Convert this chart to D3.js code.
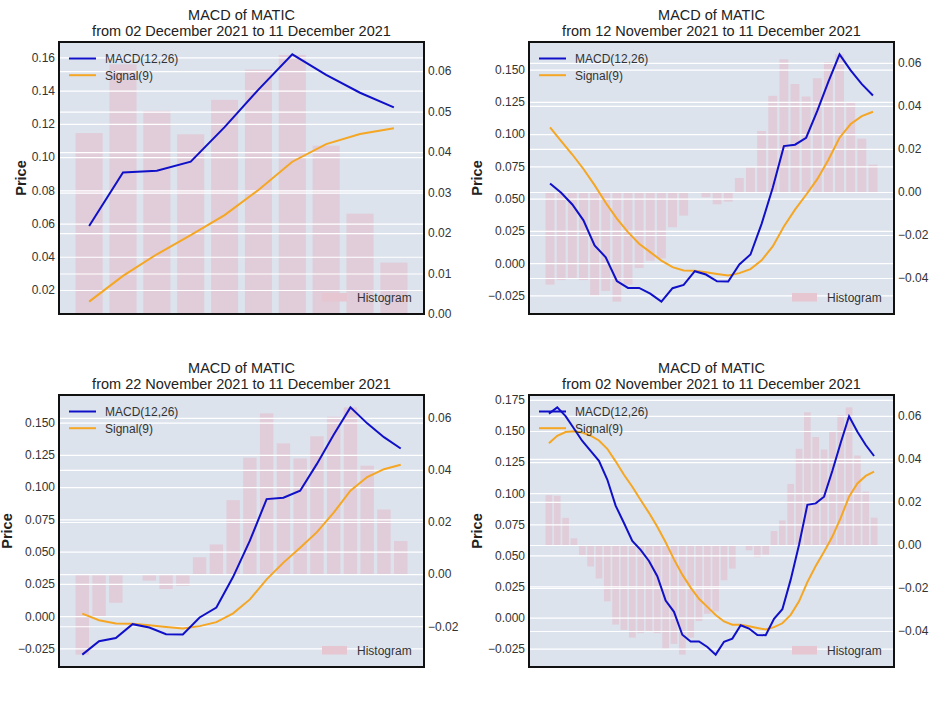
<!DOCTYPE html>
<html lang="en">
<head>
<meta charset="UTF-8">
<title>MACD of MATIC</title>
<script src="https://d3js.org/d3.v7.min.js"></script>
<style>
    body {margin:0; background:#fff;}
    svg text {font-family:"Liberation Sans", Arial, sans-serif;}
</style>
</head>
<body>
<div id="chart"></div>
<script>
// daily MACD values, 02 Nov 2021 .. 11 Dec 2021 (40 days)
var macdValues = [
    0.164, 0.169, 0.162, 0.152, 0.142, 0.134, 0.126, 0.111, 0.090, 0.076,
    0.0617, 0.0545, 0.0455, 0.0332, 0.0137, 0.0046, -0.0138, -0.0192, -0.0192, -0.0236,
    -0.0298, -0.0194, -0.0169, -0.0062, -0.0088, -0.0140, -0.0142, -0.0010, 0.0067, 0.0305,
    0.0585, 0.0907, 0.0918, 0.0972, 0.1180, 0.1406, 0.1618, 0.1494, 0.1387, 0.1299
];
var signalValues = [
    0.1401, 0.1462, 0.1492, 0.1498, 0.1488, 0.1462, 0.1424, 0.1357, 0.1256, 0.1148,
    0.1052, 0.0945, 0.0842, 0.0730, 0.0605, 0.0468, 0.0345, 0.0241, 0.0151, 0.0086,
    0.0020, -0.0031, -0.0057, -0.0058, -0.0070, -0.0083, -0.0096, -0.0077, -0.0046, 0.0022,
    0.0130, 0.0285, 0.0415, 0.0530, 0.0651, 0.0802, 0.0972, 0.1078, 0.1139, 0.1173
];
var histValues = [
    0.0232, 0.0229, 0.0126, 0.0031, -0.0047, -0.0100, -0.0156, -0.0262, -0.0370, -0.0395,
    -0.0431, -0.0410, -0.0403, -0.0410, -0.0482, -0.0460, -0.0510, -0.0431, -0.0354, -0.0320,
    -0.0309, -0.0164, -0.0110, -0.0003, -0.0025, -0.0057, -0.0045, 0.0065, 0.0114, 0.0284,
    0.0447, 0.0617, 0.0502, 0.0444, 0.0529, 0.0604, 0.0640, 0.0416, 0.0248, 0.0127
];

var periodTitles = [
    "from 02 December 2021 to 11 December 2021",
    "from 12 November 2021 to 11 December 2021",
    "from 22 November 2021 to 11 December 2021",
    "from 02 November 2021 to 11 December 2021"
];
var periodDays = [10, 30, 20, 40];
var leftTicks = [
    [0.02, 0.04, 0.06, 0.08, 0.10, 0.12, 0.14, 0.16],
    [-0.025, 0, 0.025, 0.05, 0.075, 0.1, 0.125, 0.15],
    [-0.025, 0, 0.025, 0.05, 0.075, 0.1, 0.125, 0.15],
    [-0.025, 0, 0.025, 0.05, 0.075, 0.1, 0.125, 0.15, 0.175]
];
var leftFormats = [".2f", ".3f", ".3f", ".3f"];
var rightTicks = [
    [0, 0.01, 0.02, 0.03, 0.04, 0.05, 0.06],
    [-0.04, -0.02, 0, 0.02, 0.04, 0.06],
    [-0.02, 0, 0.02, 0.04, 0.06],
    [-0.04, -0.02, 0, 0.02, 0.04, 0.06]
];

var W = 941, H = 706;
var w = 365, h = 272;
var origins = [[59, 42], [529, 42], [59, 395], [529, 395]];
var bgColor = "#dce3ed";
var barColor = "#e0cdd9";
var macdColor = "#1010c8";
var signalColor = "#f5a623";
var textColor = "#333";

var svg = d3.select("#chart").append("svg")
    .attr("width", W)
    .attr("height", H);

function padded(lo, hi, sticky) {
    var r = hi - lo;
    var a = (sticky && lo === 0) ? 0 : lo - 0.05 * r;
    var b = (sticky && hi === 0) ? 0 : hi + 0.05 * r;
    return [a, b];
}

periodDays.forEach(function(n, k) {
    var start = macdValues.length - n;
    var macd = macdValues.slice(start);
    var signal = signalValues.slice(start);
    var hist = histValues.slice(start);
    var idx = d3.range(n);

    var g = svg.append("g")
        .attr("transform", `translate(${origins[k][0]},${origins[k][1]})`);

    var m = 0.05 * (n - 0.2);
    var x = d3.scaleLinear().domain([-0.4 - m, n - 0.6 + m]).range([0, w]);

    var lineExt = d3.extent(macd.concat(signal));
    var yL = d3.scaleLinear().domain(padded(lineExt[0], lineExt[1], false)).range([h, 0]);
    var hLo = Math.min(0, d3.min(hist)), hHi = Math.max(0, d3.max(hist));
    var yR = d3.scaleLinear().domain(padded(hLo, hHi, true)).range([h, 0]);

    g.append("rect")
        .attr("width", w)
        .attr("height", h)
        .attr("fill", bgColor);

    // histogram on the right axis
    g.selectAll(".bar")
        .data(idx)
        .enter()
        .append("rect")
        .attr("class", "bar")
        .attr("x", d => x(d - 0.4))
        .attr("width", x(0.8) - x(0))
        .attr("y", d => yR(Math.max(0, hist[d])))
        .attr("height", d => Math.abs(yR(hist[d]) - yR(0)))
        .attr("fill", barColor);

    // white grid lines for both axes
    var gridL = g.append("g")
        .call(d3.axisLeft(yL).tickValues(leftTicks[k]).tickSize(-w).tickFormat(""));
    var gridR = g.append("g")
        .call(d3.axisLeft(yR).tickValues(rightTicks[k]).tickSize(-w).tickFormat(""));
    [gridL, gridR].forEach(function(gr) {
        gr.select(".domain").remove();
        gr.selectAll("line").attr("stroke", "#fff").attr("stroke-width", 1.2);
    });

    var line = function(vals) {
        return d3.line().x(d => x(d)).y(d => yL(vals[d]))(idx);
    };
    g.append("path")
        .attr("d", line(signal))
        .attr("fill", "none")
        .attr("stroke", signalColor)
        .attr("stroke-width", 2);
    g.append("path")
        .attr("d", line(macd))
        .attr("fill", "none")
        .attr("stroke", macdColor)
        .attr("stroke-width", 2);

    // axes labels
    var axL = g.append("g")
        .call(d3.axisLeft(yL).tickValues(leftTicks[k]).tickSize(0).tickPadding(4)
            .tickFormat(d3.format(leftFormats[k])));
    var axR = g.append("g")
        .attr("transform", `translate(${w},0)`)
        .call(d3.axisRight(yR).tickValues(rightTicks[k]).tickSize(0).tickPadding(4)
            .tickFormat(d3.format(".2f")));
    [axL, axR].forEach(function(ax) {
        ax.select(".domain").remove();
        ax.attr("color", textColor);
        ax.selectAll("text").attr("font-size", "12px")
            .attr("font-family", '"Liberation Sans", Arial, sans-serif');
    });

    // legends
    var leg = [["MACD(12,26)", macdColor], ["Signal(9)", signalColor]];
    leg.forEach(function(l, j) {
        var ly = 16.5 + j * 16.7;
        g.append("line")
            .attr("x1", 10).attr("x2", 37)
            .attr("y1", ly).attr("y2", ly)
            .attr("stroke", l[1])
            .attr("stroke-width", 2);
        g.append("text")
            .attr("x", 46)
            .attr("y", ly + 4.3)
            .attr("font-size", "12px")
            .attr("fill", textColor)
            .text(l[0]);
    });
    g.append("rect")
        .attr("x", w - 102)
        .attr("y", h - 21)
        .attr("width", 25)
        .attr("height", 8.5)
        .attr("fill", "#e6c6d0");
    g.append("text")
        .attr("x", w - 67)
        .attr("y", h - 12.5)
        .attr("font-size", "12px")
        .attr("fill", textColor)
        .text("Histogram");

    // frame
    g.append("rect")
        .attr("width", w)
        .attr("height", h)
        .attr("fill", "none")
        .attr("stroke", "#111")
        .attr("stroke-width", 2);

    // titles
    g.append("text")
        .attr("x", w / 2)
        .attr("y", -22)
        .attr("text-anchor", "middle")
        .attr("font-size", "14.5px")
        .attr("fill", "#222")
        .text("MACD of MATIC");
    g.append("text")
        .attr("x", w / 2)
        .attr("y", -6.5)
        .attr("text-anchor", "middle")
        .attr("font-size", "14.5px")
        .attr("fill", "#222")
        .text(periodTitles[k]);

    var bb = axL.node().getBBox();
    g.append("text")
        .attr("transform", `translate(${bb.x - 11},${h / 2}) rotate(-90)`)
        .attr("text-anchor", "middle")
        .attr("dy", "0.35em")
        .attr("font-size", "14.5px")
        .attr("font-weight", "bold")
        .attr("fill", "#222")
        .text("Price");
});
</script>
</body>
</html>
